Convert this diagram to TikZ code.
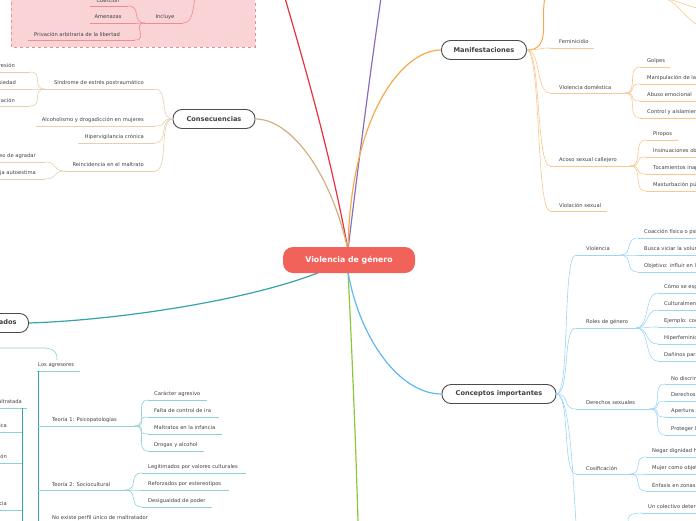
\documentclass[tikz,border=0pt]{standalone}
\usepackage{fontspec}
\setmainfont{DejaVu Sans}
\definecolor{cor}{HTML}{F9A94B}\definecolor{corl}{HTML}{FBC68F}
\definecolor{cte}{HTML}{35A3A8}\definecolor{ctel}{HTML}{8FD0D2}
\definecolor{cbl}{HTML}{5DB8F2}\definecolor{cbll}{HTML}{9DD5F8}
\definecolor{ctan}{HTML}{D2B07E}\definecolor{ctanl}{HTML}{E5CFAE}
\definecolor{cred}{HTML}{E8303F}\definecolor{credl}{HTML}{F08A92}
\definecolor{cpu}{HTML}{8B6FBF}\definecolor{cgr}{HTML}{8CC63F}
\definecolor{cctr}{HTML}{F0625A}\definecolor{pinkbg}{HTML}{F9D3D5}
\tikzset{leaf/.style={font=\fontsize{5.2}{6}\selectfont,text=black!75,inner sep=0pt},
 mainn/.style={draw=black!70,line width=0.9pt,rounded corners=9pt,fill=white,font=\fontsize{6.6}{7}\selectfont\bfseries,text=black!75,minimum height=19pt,inner sep=0pt},
 con/.style={line width=0.6pt}}
\newcommand\lf[8]{%
 \node[leaf,anchor=#8] (#1) at (#2,#3) {#4};
 \draw[#7,line width=.6pt] (#5,#3+6) coordinate(#1s) -- (#6,#3+6) coordinate(#1e);}
\newcommand\myconr[3]{\draw[#1,con] (#2) .. controls +(14,0) and +(-14,0) .. (#3);}
\newcommand\myconl[3]{\draw[#1,con] (#2) .. controls +(-14,0) and +(14,0) .. (#3);}
\begin{document}
\begin{tikzpicture}[x=1pt,y=-1pt]
\useasboundingbox (0,0) rectangle (696,520);
% pink box
\draw[credl,dashed,fill=pinkbg,line width=.7pt] (11,-10) rectangle (255,47);
% main lines
\draw[cred,line width=1.2pt] (348,250) .. controls (330,150) and (300,50) .. (285,-2);
\draw[cpu,line width=1.2pt] (348,250) .. controls (360,150) and (372,60) .. (381,-2);
\draw[cgr,line width=1.2pt] (348,272) .. controls (352,350) and (356,450) .. (358,522);
\node[mainn,minimum width=85pt] (man) at (484,50) {Manifestaciones};
\node[mainn,minimum width=82pt] (con) at (214,119) {Consecuencias};
\node[mainn,minimum width=114pt] (cpt) at (499,394) {Conceptos importantes};
\node[mainn,minimum width=64pt,anchor=east] (imp) at (29,323) {Implicados};
\draw[cor,line width=1.2pt] (348,250) .. controls (350,120) and (400,50) .. (man.west);
\draw[ctan,line width=1.2pt] (348,250) .. controls (330,170) and (290,119) .. (con.east);
\draw[cbl,line width=1.2pt] (348,272) .. controls (360,340) and (400,394) .. (cpt.west);
\draw[cte,line width=1.2pt] (320,272) .. controls (250,300) and (120,320) .. (imp.east);
\node[fill=cctr,rounded corners=10pt,minimum width=132pt,minimum height=26pt,text=white,font=\fontsize{7.8}{8}\selectfont\bfseries] (ctr) at (349,260) {Violencia de género};
% Manifestaciones
\draw[cor,line width=1pt] (man.east) .. controls +(25,0) and +(-5,20) .. (545,-2);
\lf{fe}{559}{42}{Feminicidio}{550}{594}{corl}{west}
\lf{vd}{559}{87}{Violencia doméstica}{550}{625}{corl}{west}
\lf{as}{559}{160}{Acoso sexual callejero}{550}{630}{corl}{west}
\lf{vs}{559}{205}{Violación sexual}{550}{607}{corl}{west}
\foreach \c in {fe,vd,as,vs}{\myconr{corl}{man.east}{\c s}}
\lf{g1}{647}{61}{Golpes}{640}{670}{corl}{west}
\lf{g2}{647}{78}{Manipulación de la víctima}{640}{720}{corl}{west}
\lf{g3}{647}{95}{Abuso emocional}{640}{720}{corl}{west}
\lf{g4}{647}{112}{Control y aislamiento}{640}{720}{corl}{west}
\foreach \c in {g1,g2,g3,g4}{\myconr{corl}{vde}{\c s}}
\lf{p1}{653}{134}{Piropos}{646}{678}{corl}{west}
\lf{p2}{653}{151}{Insinuaciones obscenas}{646}{720}{corl}{west}
\lf{p3}{653}{168}{Tocamientos inapropiados}{646}{720}{corl}{west}
\lf{p4}{653}{185}{Masturbación pública}{646}{720}{corl}{west}
\foreach \c in {p1,p2,p3,p4}{\myconr{corl}{ase}{\c s}}
\coordinate (tp) at (630,-1);\draw[cor,line width=.6pt] (tp) -- (665,-1);
\draw[corl,con] (665,-1) .. controls +(10,0) and +(-10,0) .. (700,8);
\draw[corl,con] (665,-1) .. controls +(10,0) and +(-10,0) .. (700,25);
% Conceptos
\lf{v}{586}{249}{Violencia}{576}{620}{cbll}{west}
\lf{r}{586}{322}{Roles de género}{576}{636}{cbll}{west}
\lf{d}{586}{403}{Derechos sexuales}{576}{650}{cbll}{west}
\lf{k}{586}{468}{Cosificación}{576}{630}{cbll}{west}
\foreach \c in {v,r,d,k}{\myconr{cbll}{cpt.east}{\c s}}
\draw[cbll,con] (cpt.east) .. controls +(14,0) and +(-3,-40) .. (576,522);
\lf{v1}{644}{232}{Coacción física o psicológica}{638}{720}{cbll}{west}
\lf{v2}{644}{249}{Busca viciar la voluntad}{638}{720}{cbll}{west}
\lf{v3}{644}{266}{Objetivo: influir en la víctima}{638}{720}{cbll}{west}
\foreach \c in {v1,v2,v3}{\myconr{cbll}{ve}{\c s}}
\lf{r1}{664}{287}{Cómo se espera}{658}{720}{cbll}{west}
\lf{r2}{664}{304}{Culturalmente}{658}{720}{cbll}{west}
\lf{r3}{664}{321}{Ejemplo: cocinar}{658}{720}{cbll}{west}
\lf{r4}{664}{338}{Hiperfeminidad}{658}{720}{cbll}{west}
\lf{r5}{664}{355}{Dañinos para todos}{658}{720}{cbll}{west}
\foreach \c in {r1,r2,r3,r4,r5}{\myconr{cbll}{re}{\c s}}
\lf{d1}{671}{378}{No discriminación}{665}{720}{cbll}{west}
\lf{d2}{671}{395}{Derechos reproductivos}{665}{720}{cbll}{west}
\lf{d3}{671}{411}{Apertura sexual}{665}{720}{cbll}{west}
\lf{d4}{671}{429}{Proteger la integridad}{665}{720}{cbll}{west}
\foreach \c in {d1,d2,d3,d4}{\myconr{cbll}{de}{\c s}}
\lf{k1}{652}{451}{Negar dignidad humana}{646}{720}{cbll}{west}
\lf{k2}{652}{468}{Mujer como objeto}{646}{720}{cbll}{west}
\lf{k3}{652}{485}{Énfasis en zonas sexuales}{646}{720}{cbll}{west}
\foreach \c in {k1,k2,k3}{\myconr{cbll}{ke}{\c s}}
\lf{u1}{648}{507}{Un colectivo determinado}{642}{720}{cbll}{west}
\draw[cbll,con] (u1s) .. controls +(-14,0) and +(0,-5) .. (628,522);
% Consecuencias
\lf{s}{144}{83}{Síndrome de estrés postraumático}{45}{155}{ctanl}{east}
\lf{a}{144}{120}{Alcoholismo y drogadicción en mujeres}{36}{155}{ctanl}{east}
\lf{h}{144}{137}{Hipervigilancia crónica}{78}{155}{ctanl}{east}
\lf{ri}{144}{165}{Reincidencia en el maltrato}{65}{155}{ctanl}{east}
\foreach \c in {s,a,h,ri}{\myconl{ctanl}{con.west}{\c e}}
\lf{s1}{15}{66}{Depresión}{-30}{30}{ctanl}{east}
\lf{s2}{16}{83}{Ansiedad}{-30}{30}{ctanl}{east}
\lf{s3}{15}{100}{Incomunicación}{-30}{30}{ctanl}{east}
\foreach \c in {s1,s2,s3}{\myconl{ctanl}{ss}{\c e}}
\lf{q1}{36}{156}{Deseo de agradar}{-30}{45}{ctanl}{east}
\lf{q2}{36}{173}{Baja autoestima}{-30}{45}{ctanl}{east}
\foreach \c in {q1,q2}{\myconl{ctanl}{ris}{\c e}}
% Pink box content
\lf{inc}{165}{17}{Incluye}{145}{183}{credl}{center}
\draw[credl,con] (ince) .. controls +(10,0) and +(-2,10) .. (195,-2);
\lf{co}{108}{0}{Coerción}{90}{128}{credl}{center}
\lf{am}{108}{17}{Amenazas}{90}{135}{credl}{center}
\lf{pr}{77}{34}{Privación arbitraria de la libertad}{28}{135}{credl}{center}
\foreach \c in {co,am,pr}{\myconl{credl}{incs}{\c e}}
% Implicados
\draw[ctel,con] (-5,348) -- (45,348) .. controls (55,349) and (57,352) .. (57,360);
\lf{ag}{38}{365}{Los agresores}{37}{80}{ctel}{west}
\draw[cte,line width=1pt] (38,371) -- (38,522);
\lf{t1}{52}{420}{Teoría 1: Psicopatologías}{38}{135}{ctel}{west}
\lf{t2}{52}{484}{Teoría 2: Sociocultural}{38}{125}{ctel}{west}
\node[leaf,anchor=west] (ne) at (52,518) {No existe perfil único de maltratador};
\lf{a1}{154}{394}{Carácter agresivo}{148}{207}{ctel}{west}
\lf{a2}{154}{411}{Falta de control de ira}{148}{219}{ctel}{west}
\lf{a3}{154}{428}{Maltratos en la infancia}{148}{222}{ctel}{west}
\lf{a4}{154}{445}{Drogas y alcohol}{148}{204}{ctel}{west}
\foreach \c in {a1,a2,a3,a4}{\myconr{ctel}{t1e}{\c s}}
\lf{b1}{148}{467}{Legitimados por valores culturales}{142}{246}{ctel}{west}
\lf{b2}{148}{484}{Reforzados por estereotipos}{142}{229}{ctel}{west}
\lf{b3}{148}{501}{Desigualdad de poder}{142}{212}{ctel}{west}
\foreach \c in {b1,b2,b3}{\myconr{ctel}{t2e}{\c s}}
\lf{m0}{22}{402}{La mujer maltratada}{-30}{27}{ctel}{east}
\draw[cte,line width=1pt] (22,408) -- (22,522);
\lf{m1}{7}{426}{Dependencia económica}{-30}{22}{ctel}{east}
\lf{m2}{7}{457}{Baja autoestima y sumisión}{-30}{22}{ctel}{east}
\lf{m3}{7}{504}{Miedo a la violencia}{-30}{22}{ctel}{east}
\end{tikzpicture}
\end{document}
